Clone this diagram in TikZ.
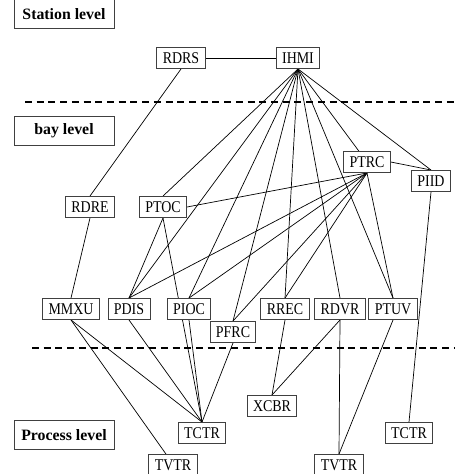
\documentclass[tikz,border=0pt]{standalone}
\usepackage{fontspec}
\setmainfont{Liberation Serif}
\newfontfamily\boxfont[FakeStretch=0.85]{Liberation Serif}
\usetikzlibrary{positioning,backgrounds}

\begin{document}
\begin{tikzpicture}[x=0.3mm,y=-0.3mm,
  box/.style={draw=black!75,line width=0.8pt,fill=white,inner xsep=5pt,minimum height=6.3mm,font=\boxfont\fontsize{14}{14}\selectfont},
  lvl/.style={draw=black!75,line width=0.8pt,fill=white,minimum width=30mm,minimum height=8.5mm,font=\fontsize{13.5}{14}\selectfont\bfseries},
  link/.style={line width=0.6pt},
  sep/.style={line width=0.9pt,dash pattern=on 6pt off 4pt}]
\useasboundingbox (0,0) rectangle (474,474);

\node[lvl] at (64,14) (stn) {Station level};
\node[lvl] at (64,131) (bay) {bay level};
\node[lvl] at (64,435) (proc) {Process level};

\node[box] at (181,58) (rdrs) {RDRS};
\node[box] at (298,58) (ihmi) {IHMI};
\node[box] at (90,207) (rdre) {RDRE};
\node[box] at (163,207) (ptoc) {PTOC};
\node[box] at (367,162) (ptrc) {PTRC};
\node[box] at (431,181) (piid) {PIID};
\node[box] at (71,309) (mmxu) {MMXU};
\node[box] at (129,309) (pdis) {PDIS};
\node[box] at (189,309) (pioc) {PIOC};
\node[box] at (285,309) (rrec) {RREC};
\node[box] at (340,309) (rdvr) {RDVR};
\node[box] at (393,309) (ptuv) {PTUV};
\node[box] at (233,332) (pfrc) {PFRC};
\node[box] at (272,406) (xcbr) {XCBR};
\node[box] at (202,433) (tctr1) {TCTR};
\node[box] at (409,433) (tctr2) {TCTR};
\node[box] at (173,465) (tvtr1) {TVTR};
\node[box] at (339,465) (tvtr2) {TVTR};

\coordinate (d1a) at (25,102);
\coordinate (d1b) at (455,102);
\coordinate (d2a) at (32,348);
\coordinate (d2b) at (455,348);
\draw[sep] (d1a) -- (d1b);
\draw[sep] (d2a) -- (d2b);

\begin{scope}[on background layer]
% station level
\draw[link] (rdrs) -- (ihmi);
\draw[link] (rdrs.south) -- (rdre.north);
\foreach \t in {ptoc,pdis,pioc,pfrc,rrec,rdvr,ptuv,piid}
  \draw[link] (ihmi.south) -- (\t.north);
\draw[link] (ihmi.south) -- ([xshift=-7pt]ptrc.north);

% bay level
\draw[link] (ptrc.south) -- (ptoc.east);
\foreach \t in {pdis,pioc,pfrc,rrec,ptuv}
  \draw[link] (ptrc.south) -- (\t.north);
\draw[link] (ptrc.east) -- (piid.north);
\draw[link] (ptoc.south) -- (pdis.north);
\draw[link] (ptoc.south) -- (tctr1.north);
\draw[link] (rdre.south) -- (mmxu.north);

% process level
\foreach \s in {mmxu,pdis,pioc,pfrc}
  \draw[link] (\s.south) -- (tctr1.north);
\draw[link] (mmxu.south) -- ([xshift=-6pt]tvtr1.north);
\draw[link] (rrec.south) -- (xcbr.north);
\draw[link] (rdvr.south) -- (xcbr.north);
\draw[link] (rdvr.south) -- (tvtr2.north);
\draw[link] (ptuv.south) -- (tvtr2.north);
\draw[link] (piid.south) -- (tctr2.north);
\end{scope}
\end{tikzpicture}
\end{document}
